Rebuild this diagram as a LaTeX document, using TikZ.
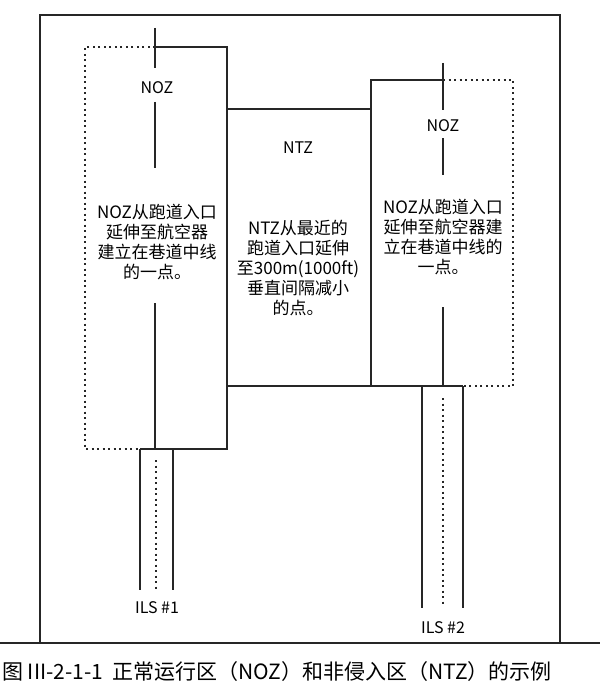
\documentclass[tikz,border=0pt]{standalone}
\usepackage{fontspec}
\setmainfont{Noto Sans CJK SC}
\begin{document}
\begin{tikzpicture}[x=1pt,y=-1pt,
  ln/.style={line width=1.3pt,black!85},
  dt/.style={line width=2.2pt,black!85,dash pattern=on 2pt off 3.5pt},
  txt/.style={align=center,font=\fontsize{17}{20}\selectfont,inner sep=0pt},
  lbl/.style={font=\fontsize{16}{18}\selectfont,inner sep=0pt}]
\useasboundingbox (0,0) rectangle (600,698);
\fill[white] (0,0) rectangle (600,698);
% frame
\draw[ln] (40,643) -- (40,15) -- (560,15) -- (560,643);
\draw[ln] (0,643) -- (600,643);
% left NOZ
\coordinate (l1) at (155,47); \coordinate (l2) at (227,47);
\coordinate (l3) at (227,449); \coordinate (l4) at (140,449);
\draw[dt] (l1) -- (85,47) -- (85,449) -- (l4);
\draw[ln] (l1) -- (l2) -- (l3) -- (l4);
\node[lbl] (noz1) at (157,88) {NOZ};
\draw[ln] (155,28) -- (155,68);
\draw[ln] (155,102) -- (155,168);
\node[txt] (t1) at (157,242) {NOZ从跑道入口\\延伸至航空器\\建立在巷道中线\\的一点。};
\draw[ln] (155,303) -- (155,449);
\draw[ln] (140,449) -- (140,590);
\draw[ln] (173,449) -- (173,590);
\draw[dt] (156,460) -- (156,590);
\node[lbl] (ils1) at (157,608) {ILS \#1};
% NTZ
\draw[ln] (227,109) -- (371,109);
\draw[ln] (227,386) -- (463,386);
\node[lbl] (ntz) at (298,148) {NTZ};
\node[txt] (t2) at (298,268) {NTZ从最近的\\跑道入口延伸\\至300m(1000ft)\\垂直间隔减小\\的点。};
% right NOZ
\draw[ln] (371,386) -- (371,80) -- (443,80);
\draw[dt] (443,80) -- (513,80) -- (513,386) -- (463,386);
\node[lbl] (noz2) at (443,126) {NOZ};
\draw[ln] (443,63) -- (443,110);
\draw[ln] (443,138) -- (443,175);
\node[txt] (t3) at (443,237) {NOZ从跑道入口\\延伸至航空器建\\立在巷道中线的\\一点。};
\draw[ln] (443,307) -- (443,386);
\draw[ln] (422,386) -- (422,608);
\draw[ln] (463,386) -- (463,608);
\draw[dt] (443,398) -- (443,605);
\node[lbl] (ils2) at (443,628) {ILS \#2};
% caption
\node[anchor=west,inner sep=0pt,font=\fontsize{21}{24}\selectfont] (cap) at (2,672) {图 III-2-1-1\ \ 正常运行区（NOZ）和非侵入区（NTZ）的示例};
\end{tikzpicture}
\end{document}
